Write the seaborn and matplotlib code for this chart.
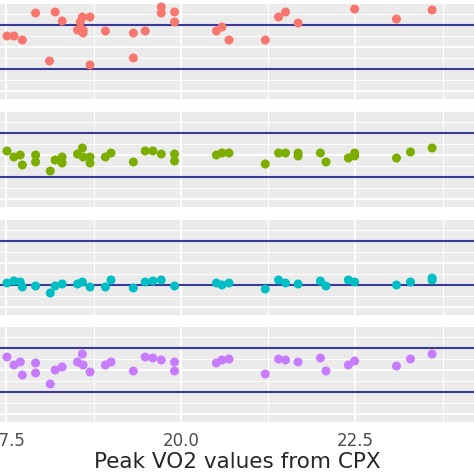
import numpy as np
import pandas as pd
import seaborn as sns
import matplotlib.pyplot as plt
from matplotlib.ticker import MultipleLocator, FixedLocator

# x positions (Peak VO2)
red_x = [17.51, 17.61, 17.73, 17.92, 18.20, 18.30, 18.12, 18.59, 18.70, 18.60, 18.52, 18.60, 18.70,
         18.92, 19.32, 19.32, 19.49, 19.72, 19.72, 19.91, 19.91, 20.51, 20.59, 20.69, 21.21, 21.40,
         21.50, 21.68, 22.49, 23.09, 23.60, 18.56]
red_y = [-34, -34, -38, -11, -10, -19, -59, -15, -15, -28, -28, -31, -63, -29, -31, -56, -29, -5,
         -11, -10, -20, -29, -25, -38, -38, -15, -10, -21, -7, -17, -8, -20]

green_x = [17.51, 17.61, 17.70, 17.73, 17.92, 17.92, 18.13, 18.20, 18.30, 18.30, 18.52, 18.59,
           18.60, 18.70, 18.70, 18.92, 19.00, 19.32, 19.49, 19.60, 19.72, 19.91, 19.91, 20.51,
           20.59, 20.69, 21.21, 21.40, 21.50, 21.68, 21.68, 22.00, 22.08, 22.40, 22.49, 22.49,
           23.09, 23.29, 23.60]
green_y = [-41, -47, -45, -55, -45, -52, -61, -50, -47, -53, -44, -38, -47, -47, -53, -47, -43,
           -52, -41, -41, -44, -44, -51, -45, -43, -43, -54, -43, -43, -43, -46, -43, -52, -48,
           -43, -46, -48, -42, -38]

cyan_x = [17.51, 17.61, 17.70, 17.73, 17.92, 18.13, 18.20, 18.30, 18.52, 18.59, 18.70, 18.92,
          19.00, 19.32, 19.49, 19.60, 19.72, 19.91, 20.51, 20.59, 20.69, 21.21, 21.40, 21.50,
          21.68, 22.00, 22.08, 22.40, 22.49, 23.09, 23.29, 23.60, 23.60]
cyan_y = [-65, -63, -64, -69, -68, -75, -68, -66, -66, -64, -69, -69, -62, -70, -64, -63, -62,
          -68, -65, -67, -65, -71, -62, -65, -66, -63, -68, -62, -64, -67, -64, -60, -62]

purple_x = [17.51, 17.61, 17.70, 17.73, 17.92, 17.92, 18.13, 18.20, 18.30, 18.52, 18.59, 18.60,
            18.70, 18.92, 19.00, 19.32, 19.49, 19.60, 19.72, 19.91, 19.91, 20.51, 20.59, 20.69,
            21.21, 21.40, 21.50, 21.68, 22.00, 22.08, 22.40, 22.49, 23.09, 23.29, 23.60]
purple_y = [-32, -40, -37, -50, -38, -48, -59, -45, -42, -37, -29, -40, -47, -40, -37, -46, -32,
            -33, -35, -37, -46, -38, -35, -34, -49, -34, -35, -37, -33, -46, -40, -36, -41, -34, -29]

lines_y = [-23, -67]
colors = ['#F8766D', '#7CAE00', '#00BFC4', '#C77CFF']
panels = [(red_x, red_y), (green_x, green_y), (cyan_x, cyan_y), (purple_x, purple_y)]

sns.set_style('white')
fig = plt.figure(figsize=(4.74, 4.74), dpi=100)
H = 474
tops = [2, 110, 218, 325]
ph = 97
for i, ((xs, ys), c) in enumerate(zip(panels, colors)):
    ax = fig.add_axes([0, 1 - (tops[i] + ph) / H, 1, ph / H])
    ax.set_facecolor('#EBEBEB')
    df = pd.DataFrame({'x': xs, 'y': ys})
    sns.scatterplot(data=df, x='x', y='y', color=c, s=42, edgecolor='none', ax=ax, zorder=3)
    for ly in lines_y:
        ax.axhline(ly, color='#3A3A9A', lw=1.5, zorder=2)
    ax.set_xlim(17.41, 24.2)
    ax.set_ylim(-97, 0)
    ax.xaxis.set_major_locator(MultipleLocator(2.5))
    ax.xaxis.set_minor_locator(MultipleLocator(1.25))
    ax.yaxis.set_major_locator(FixedLocator([-1, -23, -45, -67, -89]))
    ax.yaxis.set_minor_locator(FixedLocator([-12, -34, -56, -78]))
    ax.grid(which='major', color='white', lw=1.4, zorder=0)
    ax.grid(which='minor', color='white', lw=0.7, zorder=0)
    ax.set_axisbelow(True)
    for s in ax.spines.values():
        s.set_visible(False)
    ax.set_ylabel('')
    ax.set_yticklabels([])
    ax.tick_params(axis='y', which='both', length=0)
    if i == 3:
        ax.tick_params(axis='x', which='major', length=4, width=1, color='#333333',
                       labelsize=12, labelcolor='#4D4D4D', pad=3)
        ax.tick_params(axis='x', which='minor', length=0)
        ax.set_xlabel('Peak VO2 values from CPX', fontsize=15.5, labelpad=2)
    else:
        ax.set_xlabel('')
        ax.set_xticklabels([])
        ax.tick_params(axis='x', which='both', length=0)

fig.savefig('out.png', dpi=100)
